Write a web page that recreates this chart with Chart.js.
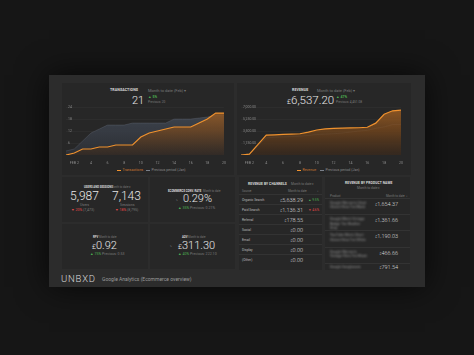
<!DOCTYPE html>
<html><head><meta charset="utf-8">
<script src="https://cdn.jsdelivr.net/npm/chart.js@4.4.1/dist/chart.umd.min.js"></script>
<style>
html,body{margin:0;padding:0;background:#161616;width:474px;height:355px;overflow:hidden;font-family:Roboto,"Open Sans",sans-serif;}
.abs{position:absolute;white-space:nowrap;}
#panel{position:absolute;left:49px;top:75px;width:376px;height:212px;background:#2c2c2c;box-shadow:0 0 30px rgba(0,0,0,0.7);}
.w{position:absolute;background:#272727;}
.t{font-size:3.6px;font-weight:700;color:#ddd;letter-spacing:0.1px;}
.g{font-size:3.6px;color:#7a7a7a;}
.big{font-weight:300;color:#e8e8e8;line-height:1;}
.up{color:#4caf50;}
.dn{color:#e04848;}
.row{position:absolute;left:0;width:100%;height:10px;border-top:0.5px solid #333;}
.blur{filter:blur(0.9px);color:#999;font-size:3.6px;line-height:4.4px;}
.lg{font-size:3.6px;color:#8a8a8a;}
.lg i{display:inline-block;width:4px;height:0.8px;vertical-align:middle;margin-right:1.5px;}
</style></head><body>
<div id="panel"></div>
<!-- widgets -->
<div class="w" style="left:62px;top:83px;width:172px;height:92px"></div>
<div class="w" style="left:237px;top:83px;width:174px;height:92px"></div>
<div class="w" style="left:62px;top:177px;width:86px;height:45px"></div>
<div class="w" style="left:150px;top:177px;width:85px;height:45px"></div>
<div class="w" style="left:62px;top:224px;width:86px;height:45px"></div>
<div class="w" style="left:150px;top:224px;width:85px;height:45px"></div>
<div class="w" style="left:239px;top:177px;width:83px;height:93px"></div>
<div class="w" style="left:325px;top:177px;width:85px;height:93px"></div>

<!-- transactions header -->
<div class="abs t" style="left:110px;top:88px">TRANSACTIONS</div>
<div class="abs g" style="left:148px;top:88px;font-size:4px">Month to date (Feb) ▾</div>
<div class="abs big" style="left:132px;top:95px;font-size:11px">21</div>
<div class="abs up" style="left:148px;top:95px;font-size:3.6px;font-weight:700">▲ 5%</div>
<div class="abs g" style="left:148px;top:100px;font-size:3.2px">Previous: 20</div>
<div style="position:absolute;left:58px;top:103px;width:174px;height:63px"><canvas id="c1"></canvas></div>
<div class="abs lg" style="left:117px;top:168px"><i style="background:#f0922e"></i><span style="color:#c87630">Transactions</span></div>
<div class="abs lg" style="left:146px;top:168px"><i style="background:#7a808a"></i>Previous period (Jan)</div>

<!-- revenue header -->
<div class="abs t" style="left:292px;top:88px">REVENUE</div>
<div class="abs g" style="left:317px;top:88px;font-size:4px">Month to date (Feb) ▾</div>
<div class="abs big" style="left:287px;top:95px;font-size:11.5px"><span style="font-size:7px">£</span>6,537.20</div>
<div class="abs up" style="left:336px;top:95px;font-size:3.6px;font-weight:700">▲ 47%</div>
<div class="abs g" style="left:336px;top:100px;font-size:3.2px">Previous: 4,451.08</div>
<div style="position:absolute;left:233px;top:103px;width:176px;height:63px"><canvas id="c2"></canvas></div>
<div class="abs lg" style="left:297px;top:168px"><i style="background:#f0922e"></i><span style="color:#c87630">Revenue</span></div>
<div class="abs lg" style="left:320px;top:168px"><i style="background:#7a808a"></i>Previous period (Jan)</div>

<!-- KPI 1 -->
<div class="abs t" style="left:84px;top:184.5px;font-size:2.8px;letter-spacing:0">USERS AND SESSIONS</div>
<div class="abs g" style="left:111px;top:184.5px;font-size:2.8px">Month to date ▾</div>
<div class="abs big" style="left:70px;top:190px;font-size:12px">5,987</div>
<div class="abs big" style="left:112px;top:190px;font-size:12px">7,143</div>
<div class="abs g" style="left:80px;top:203px">Users</div>
<div class="abs g" style="left:120px;top:203px">Sessions</div>
<div class="abs g" style="left:71px;top:208px"><span class="dn">▼ 20%</span> (7,473)</div>
<div class="abs g" style="left:115px;top:208px"><span class="dn">▼ 18%</span> (8,795)</div>
<!-- KPI 2 -->
<div class="abs t" style="left:168px;top:188.5px;font-size:2.8px;letter-spacing:0">ECOMMERCE CONV. RATE</div>
<div class="abs g" style="left:203px;top:188.5px;font-size:2.8px">Month to date</div>
<div class="abs g" style="left:175px;top:197px;font-size:5px">◔</div>
<div class="abs big" style="left:183px;top:193px;font-size:11px">0.29%</div>
<div class="abs g" style="left:178px;top:206px"><span class="up">▲ 35%</span> Previous: 0.21%</div>
<!-- KPI 3 -->
<div class="abs t" style="left:93px;top:234.5px;font-size:2.8px;letter-spacing:0">RPV</div>
<div class="abs g" style="left:99px;top:234.5px;font-size:2.8px">Month to date</div>
<div class="abs big" style="left:92px;top:240px;font-size:11px"><span style="font-size:7px">£</span>0.92</div>
<div class="abs g" style="left:90px;top:252px"><span class="up">▲ 75%</span> Previous: 0.53</div>
<!-- KPI 4 -->
<div class="abs t" style="left:182px;top:234.5px;font-size:2.8px;letter-spacing:0">AOV</div>
<div class="abs g" style="left:188px;top:234.5px;font-size:2.8px">Month to date</div>
<div class="abs g" style="left:169px;top:243px;font-size:5px">◔</div>
<div class="abs big" style="left:178px;top:240px;font-size:11px"><span style="font-size:7px">£</span>311.30</div>
<div class="abs g" style="left:178px;top:252px"><span class="up">▲ 40%</span> Previous: 222.10</div>

<!-- channels table -->
<div id="tbl1" style="position:absolute;left:239px;top:177px;width:83px;height:93px;overflow:hidden">
<div class="abs t" style="left:9px;top:5px;font-size:3.3px">REVENUE BY CHANNELS</div>
<div class="abs g" style="left:52px;top:5px;font-size:3.3px">Month to date ▾</div>
<div class="abs g" style="left:3px;top:12px;font-size:3px">Source</div>
<div class="abs g" style="left:49px;top:12px;font-size:3px">Month to date</div>
<div class="abs g" style="left:78px;top:12px;font-size:3px">↕</div>
</div>

<!-- product table -->
<div id="tbl2" style="position:absolute;left:325px;top:177px;width:85px;height:93px;overflow:hidden">
<div class="abs t" style="left:20px;top:4px;font-size:3.3px">REVENUE BY PRODUCT NAME</div>
<div class="abs g" style="left:32px;top:9px;font-size:3.3px">Month to date ▾</div>
<div class="abs g" style="left:5px;top:17px;font-size:3px">Product</div>
<div class="abs g" style="left:61px;top:17px;font-size:3px">Month to date</div>
<div class="abs g" style="left:81px;top:17px;font-size:3px">↕</div>
</div>

<!-- footer -->
<div class="abs" style="left:61px;top:273px;font-size:9.5px;font-weight:300;color:#d8d8d8;letter-spacing:0.8px">UNBXD</div>
<div class="abs" style="left:102px;top:275.5px;font-size:5px;color:#9a9a9a">Google Analytics (Ecommerce overview)</div>

<script>
// ---- data ----
const days = ['FEB 1','2','3','4','5','6','7','8','9','10','11','12','13','14','15','16','17','18','19','20'];
const transactionsCurrent = [0,1,3,3,4,4,5,5,5,9,11,12,13,14,14,14,16,18,21,21];
const transactionsPrevious = [2,3,7,11,13,15,15,15,16,16,16,16,16,18,18,18,18.5,19,20,20];
const revenueCurrent = [0,120,1500,2900,2950,3000,3050,3100,3350,3650,3800,3900,3920,3950,3980,4050,4650,5950,6450,6537.2];
const revenuePrevious = [0,150,1300,2500,2600,2650,2700,2750,2850,3000,3050,3100,3200,3350,3500,3600,3900,4100,4447,4447];
const transTicks = [6,12,18,24];
const revTicks = [1750,3500,5250,7000];
const channels = ['Organic Search','Paid Search','Referral','Social','Email','Display','(Other)'];
const channelRevenue = ['5,638.29','1,136.31','178.55','0.00','0.00','0.00','0.00'];
const channelChange = ['▲ 9.5%','▼ 4.6%','','','','',''];
const products = ['Google Women\'s Short Sleeve Hero Tee Black','Google Men\'s Vintage Badge Tee Heather Grey','YouTube Men\'s Short Sleeve Hero Tee White','Google Women\'s Vintage Hero Tee Black','Google Sunglasses'];
const productRevenue = ['1,654.37','1,361.66','1,190.03','466.66','791.54'];

// ---- tables ----
const t1 = document.getElementById('tbl1');
channels.forEach((c,i)=>{
  const top = 17 + i*10;
  const d = document.createElement('div');
  d.className='row'; d.style.top=top+'px';
  d.innerHTML = `<div class="abs" style="left:3px;top:3px;font-size:3.3px;color:#bbb">${c}</div>`+
    `<div class="abs" style="right:19px;top:1.5px;font-size:5.5px;color:#ddd;font-weight:300"><span style="font-size:3.5px">£</span>${channelRevenue[i]}</div>`+
    (channelChange[i]?`<div class="abs ${channelChange[i][0]==='▲'?'up':'dn'}" style="right:3px;top:3px;font-size:3.2px">${channelChange[i]}</div>`:'');
  t1.appendChild(d);
});
const t2 = document.getElementById('tbl2');
products.forEach((p,i)=>{
  const top = 21 + i*16.2;
  const d = document.createElement('div');
  d.className='row'; d.style.top=top+'px'; d.style.height=(i===4?7:16)+'px';
  d.innerHTML = `<div class="abs blur" style="left:5px;top:${i===4?1:2}px;width:38px;white-space:${i===4?'nowrap':'normal'}">${p}</div>`+
    `<div class="abs" style="right:12px;top:${i===4?0:2}px;font-size:5.5px;color:#ddd;font-weight:300"><span style="font-size:3.5px">£</span>${productRevenue[i]}</div>`;
  t2.appendChild(d);
});

// ---- charts ----
function orangeFill(ctx){
  const ch = ctx.chart, a = ch.chartArea;
  if(!a) return 'rgba(160,90,30,0.5)';
  const g = ch.ctx.createLinearGradient(0,a.top,0,a.bottom);
  g.addColorStop(0,'rgba(170,100,35,0.8)');
  g.addColorStop(0.5,'rgba(120,72,28,0.7)');
  g.addColorStop(1,'rgba(55,40,28,0.55)');
  return g;
}
function grayFill(ctx){
  const ch = ctx.chart, a = ch.chartArea;
  if(!a) return 'rgba(70,78,90,0.8)';
  const g = ch.ctx.createLinearGradient(0,a.top,0,a.bottom);
  g.addColorStop(0,'rgba(66,73,84,0.95)');
  g.addColorStop(1,'rgba(45,48,54,0.9)');
  return g;
}
function makeChart(id, cur, prev, curLabel, ticks, maxY, fmt){
  new Chart(document.getElementById(id), {
    type:'line',
    data:{labels:days, datasets:[
      {label:curLabel, data:cur, borderColor:'#f0922e', borderWidth:1.2, pointRadius:0, fill:'origin', backgroundColor:orangeFill, tension:0},
      {label:'Previous period (Jan)', data:prev, borderColor:'rgba(110,118,130,0.5)', borderWidth:0.6, pointRadius:0, fill:'origin', backgroundColor:id==='c1'?grayFill:'rgba(55,42,33,0.6)', tension:0}
    ]},
    options:{
      responsive:true, maintainAspectRatio:false, animation:false,
      layout:{padding:{left:4,right:2,top:4,bottom:0}},
      plugins:{ tooltip:{enabled:false}, legend:{display:false} },
      scales:{
        x:{offset:false, grid:{display:false, drawTicks:false}, border:{display:false},
           afterFit(s){ s.height = 11; },
           ticks:{color:'#8a8a8a', font:{size:3.6, family:'Roboto'}, autoSkip:false, maxRotation:0, padding:6,
             callback(v,i){ return i%2===1 ? (i===1?'FEB 2':days[i]) : ''; }}},
        y:{min:0, max:maxY, grid:{color:'rgba(255,255,255,0.03)', drawTicks:false}, border:{display:false},
           afterBuildTicks(ax){ ax.ticks = ticks.map(v=>({value:v})); },
           ticks:{mirror:true, color:'#8a8a8a', font:{size:3.4, family:'Roboto'}, padding:2, z:2,
             callback(v){ return fmt(v); }}}
      }
    }
  });
}
makeChart('c1', transactionsCurrent, transactionsPrevious, 'Transactions', transTicks, 24, v=>String(v));
makeChart('c2', revenueCurrent, revenuePrevious, 'Revenue', revTicks, 7000, v=>v.toLocaleString('en-US',{minimumFractionDigits:2}));
</script>
</body></html>
